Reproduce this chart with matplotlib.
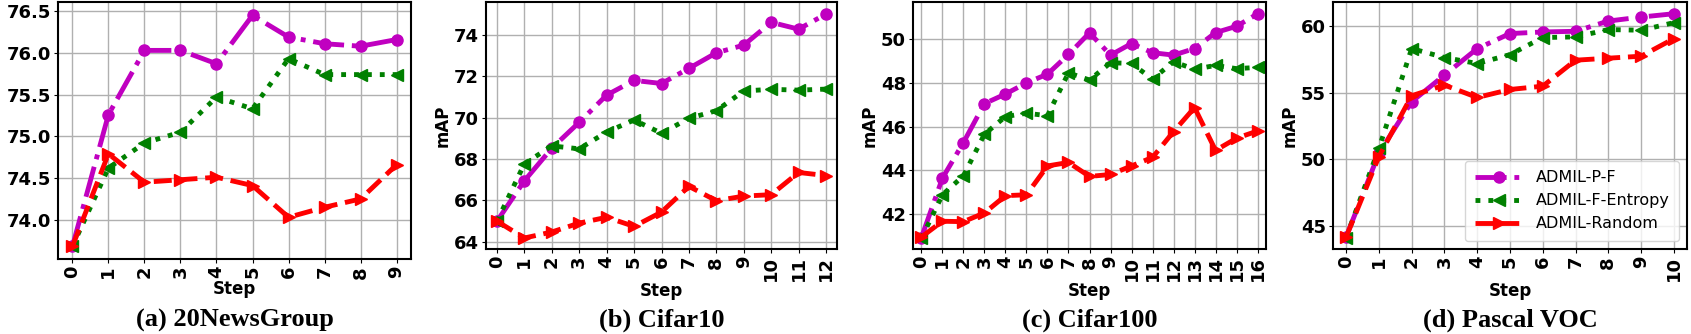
import matplotlib
matplotlib.use("Agg")
import matplotlib.pyplot as plt
import numpy as np

# data
news_pf = [73.68, 75.26, 76.03, 76.03, 75.87, 76.45, 76.19, 76.11, 76.08, 76.16]
news_ent = [73.68, 74.62, 74.92, 75.05, 75.47, 75.33, 75.93, 75.74, 75.74, 75.74]
news_rand = [73.68, 74.79, 74.45, 74.48, 74.51, 74.41, 74.03, 74.15, 74.25, 74.66]

c10_pf = [65.0, 66.95, 68.52, 69.77, 71.08, 71.79, 71.64, 72.37, 73.12, 73.49, 74.59, 74.26, 74.99]
c10_ent = [65.0, 67.77, 68.63, 68.49, 69.30, 69.88, 69.24, 69.96, 70.33, 71.28, 71.36, 71.32, 71.37]
c10_rand = [65.0, 64.19, 64.48, 64.91, 65.19, 64.75, 65.44, 66.68, 65.99, 66.21, 66.28, 67.35, 67.20]

c100_pf = [40.92, 43.64, 45.27, 47.05, 47.49, 48.00, 48.40, 49.30, 50.29, 49.27, 49.80, 49.38, 49.27, 49.57, 50.30, 50.59, 51.16]
c100_ent = [40.89, 42.88, 43.75, 45.65, 46.46, 46.61, 46.50, 48.46, 48.13, 48.92, 48.89, 48.17, 48.97, 48.62, 48.80, 48.65, 48.71]
c100_rand = [40.95, 41.67, 41.65, 42.05, 42.84, 42.88, 44.20, 44.36, 43.72, 43.81, 44.20, 44.59, 45.77, 46.87, 44.91, 45.47, 45.80]

voc_pf = [44.15, 50.44, 54.31, 56.31, 58.30, 59.43, 59.55, 59.60, 60.37, 60.67, 60.92]
voc_ent = [44.10, 50.81, 58.30, 57.63, 57.18, 57.85, 59.13, 59.18, 59.73, 59.68, 60.25]
voc_rand = [44.15, 50.19, 54.76, 55.56, 54.63, 55.23, 55.48, 57.43, 57.58, 57.73, 59.05]

captions = ["(a) 20NewsGroup", "(b) Cifar10", "(c) Cifar100", "(d) Pascal VOC"]
labels = ["ADMIL-P-F", "ADMIL-F-Entropy", "ADMIL-Random"]

panels = [
    (news_pf, news_ent, news_rand, (73.53, 76.61), [74.0, 74.5, 75.0, 75.5, 76.0, 76.5], "%.1f"),
    (c10_pf, c10_ent, c10_rand, (63.66, 75.57), [64, 66, 68, 70, 72, 74], "%d"),
    (c100_pf, c100_ent, c100_rand, (40.4, 51.7), [42, 44, 46, 48, 50], "%d"),
    (voc_pf, voc_ent, voc_rand, (43.25, 61.8), [45, 50, 55, 60], "%d"),
]

# axes boxes in pixels: left, right, top, bottom
boxes = [(58, 411, 2, 259), (486, 837, 2, 249), (913, 1266, 2, 249), (1333, 1687, 2, 249)]

W, H = 1691, 334
fig = plt.figure(figsize=(W / 100, H / 100), dpi=100)

for i, (pf, ent, rand, ylim, yt, fmt) in enumerate(panels):
    l, r, t, b = boxes[i]
    ax = fig.add_axes([l / W, 1 - b / H, (r - l) / W, (b - t) / H])
    x = np.arange(len(pf))
    ax.plot(x, pf, color="#c000c0", linestyle="-.", linewidth=3.5, marker="o", markersize=8, label=labels[0])
    ax.plot(x, ent, color="green", linestyle=":", linewidth=3.5, marker="<", markersize=8, label=labels[1])
    ax.plot(x, rand, color="red", linestyle="--", linewidth=3.5, marker=">", markersize=8, label=labels[2])
    ax.set_ylim(ylim)
    ax.set_xlim(-0.4, len(pf) - 1 + 0.4)
    ax.set_xticks(x)
    ax.set_xticklabels([str(v) for v in x], rotation=90, fontsize=13, fontweight="bold")
    ax.set_yticks(yt)
    ax.set_yticklabels([fmt % v for v in yt], fontsize=13, fontweight="bold")
    ax.grid(True, color="#b0b0b0", linewidth=1)
    ax.set_axisbelow(True)
    for s in ax.spines.values():
        s.set_linewidth(1.5)
    ax.set_xlabel("Step", fontsize=12, fontweight="bold", labelpad=1)
    ax.set_ylabel("mAP", fontsize=12, fontweight="bold", labelpad=2)
    ax.tick_params(length=3, pad=2)
    fig.text((l + r) / 2 / W, 1 - 320 / H, captions[i], ha="center", va="center",
             fontsize=19, fontweight="bold", family="Liberation Serif")
    if i == 3:
        ax.legend(loc="lower right", fontsize=11.5, handlelength=3, borderpad=0.6, labelspacing=0.5)

fig.savefig("out.png", dpi=100)
